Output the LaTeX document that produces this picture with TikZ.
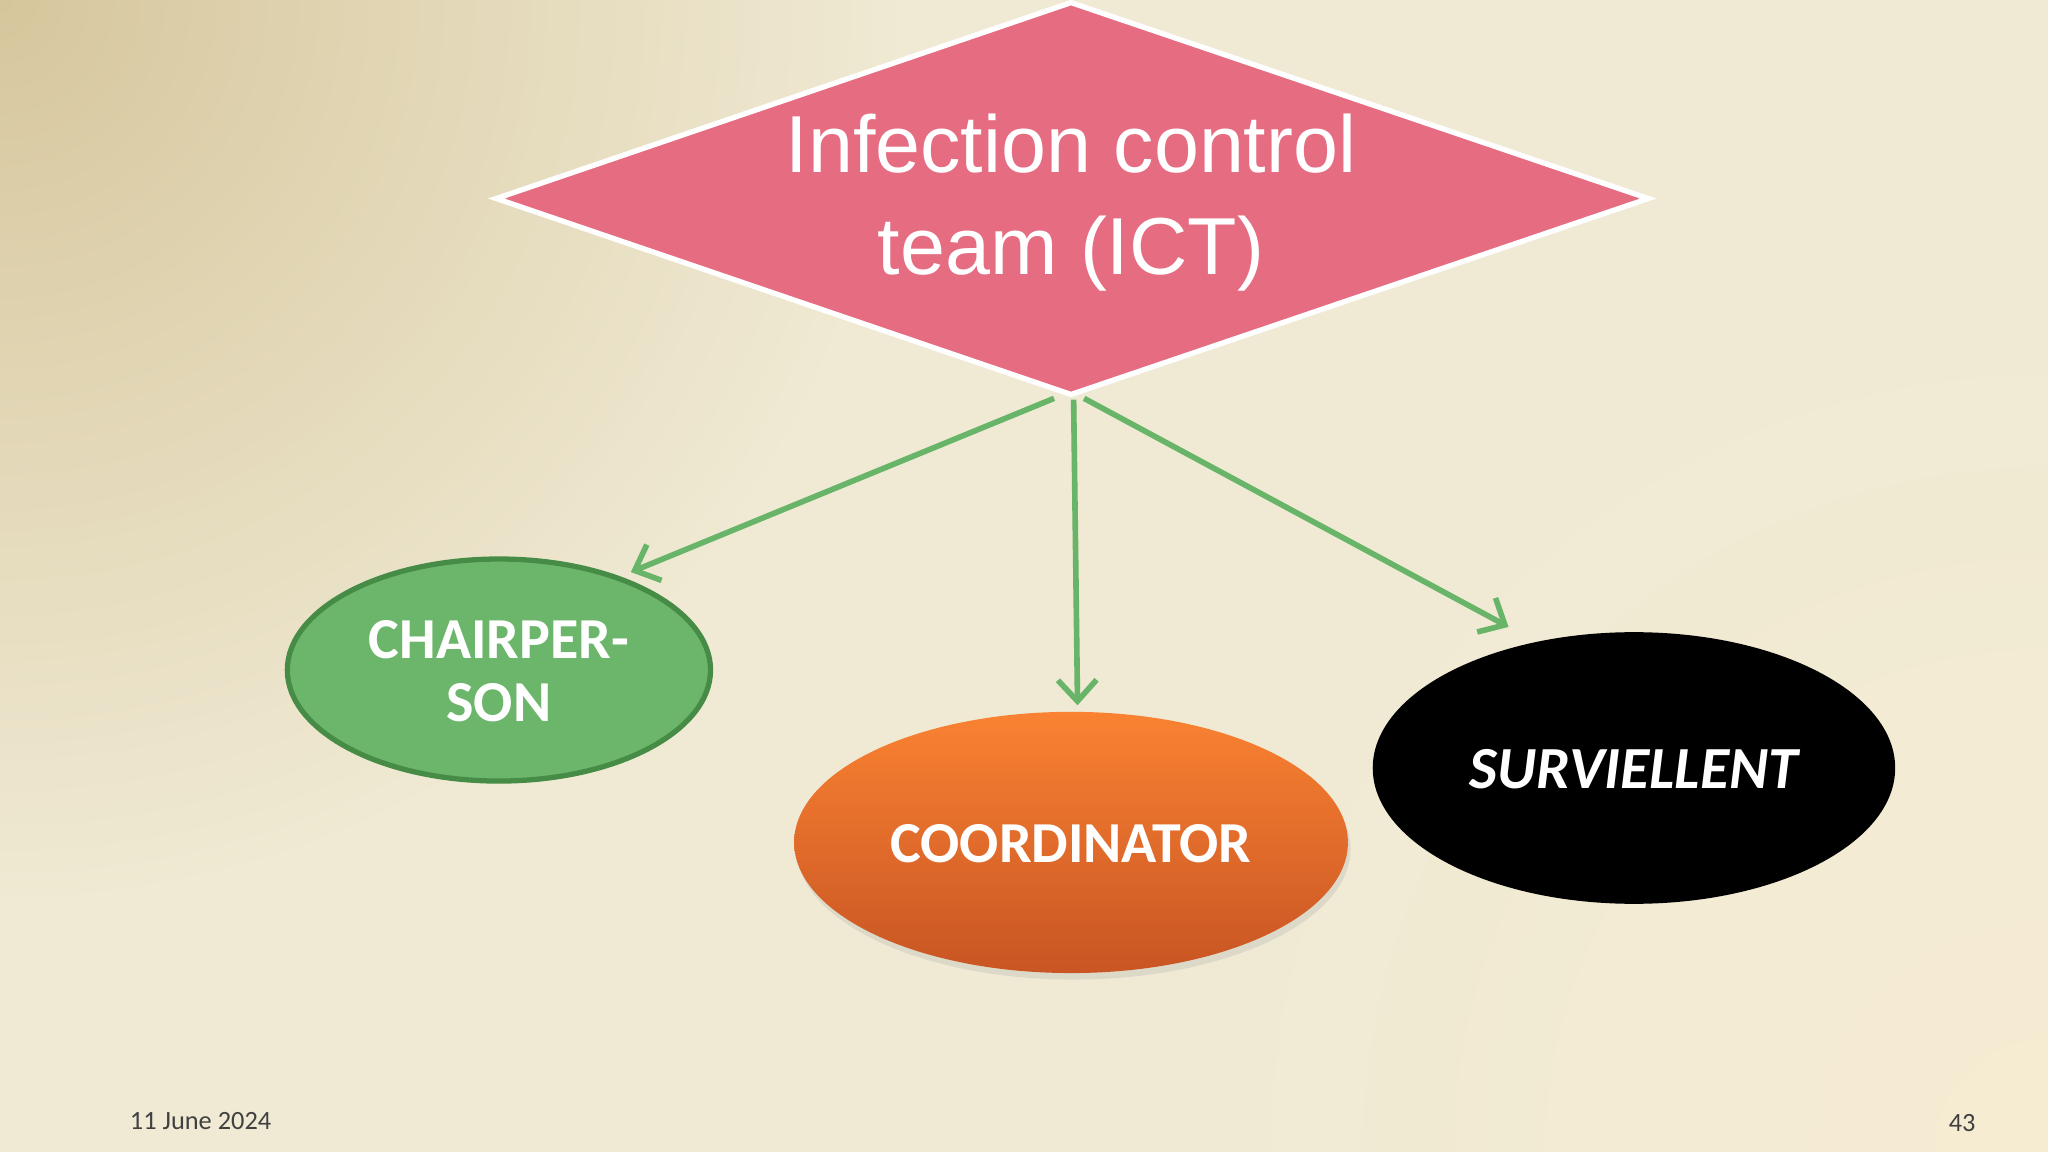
\documentclass[tikz,border=0pt]{standalone}
\usepackage{fontspec}
\setmainfont{Liberation Sans}
\newfontfamily\calfont{Carlito}
\usetikzlibrary{shapes.geometric,arrows.meta,shadows}
\definecolor{bgA}{RGB}{214,198,156}
\definecolor{bgB}{RGB}{240,234,212}
\definecolor{bgC}{RGB}{250,238,210}
\definecolor{pinkd}{RGB}{230,108,130}
\definecolor{greenn}{RGB}{108,182,108}
\definecolor{greenb}{RGB}{70,140,70}
\definecolor{arrowg}{RGB}{104,180,104}
\definecolor{orangeT}{RGB}{250,130,50}
\definecolor{orangeB}{RGB}{200,85,35}
\tikzset{
  lbl/.style={text=white, align=center},
  conn/.style={draw=arrowg, line width=1.6pt, -{Straight Barb[length=6pt,width=11pt,line width=1.6pt]}},
}
\begin{document}
\begin{tikzpicture}[x=0.013061cm,y=-0.013061cm]
\fill[bgB] (0,0) rectangle (1568,882);
\begin{scope}
\clip (0,0) rectangle (1568,882);
\shade[inner color=bgA, outer color=bgB] (0,0) circle [radius=700];
\shade[inner color=bgC, outer color=bgB, opacity=0.6] (1568,882) circle [radius=700];
\end{scope}
\useasboundingbox (0,0) rectangle (1568,882);
% diamond
\coordinate (dt) at (820,2);
\coordinate (dl) at (380,152);
\coordinate (dr) at (1262,152);
\coordinate (db) at (820,302);
\draw[white, line width=1.5pt, fill=pinkd] (dt) -- (dr) -- (db) -- (dl) -- cycle;
\node[lbl, font=\fontsize{23}{29}\selectfont] (ict) at (820,155) {Infection control\\team (ICT)};
% ellipses
\fill[greenn, draw=greenb, line width=1.5pt] (382,513) ellipse [x radius=162, y radius=85];
\node[lbl, font=\calfont\bfseries\fontsize{16.5}{18}\selectfont] (chair) at (382,514) {CHAIRPER-\\SON};
\fill[black!30, opacity=0.3] (822,650) ellipse [x radius=212, y radius=100];
\shade[top color=orangeT, bottom color=orangeB] (820,645) ellipse [x radius=212, y radius=100];
\node[lbl, font=\calfont\bfseries\fontsize{16.5}{20}\selectfont] (coord) at (820,646) {COORDINATOR};
\fill[black] (1251,588) ellipse [x radius=200, y radius=104];
\node[lbl, font=\calfont\bfseries\itshape\fontsize{17}{20}\selectfont] (surv) at (1251,589) {SURVIELLENT};
% connectors
\coordinate (a1) at (807,305); \coordinate (e1) at (483,438);
\coordinate (a2) at (822,306); \coordinate (e2) at (825,540);
\coordinate (a3) at (830,305); \coordinate (e3) at (1155,480);
\draw[conn] (a1) -- (e1);
\draw[conn] (a2) -- (e2);
\draw[conn] (a3) -- (e3);
% footer
\node[font=\calfont\fontsize{7.5}{9}\selectfont, text=black!75, anchor=west] (date) at (90,858) {11 June 2024};
\node[font=\calfont\fontsize{7.5}{9}\selectfont, text=black!75, anchor=east] (page) at (1522,860) {43};
\end{tikzpicture}
\end{document}
